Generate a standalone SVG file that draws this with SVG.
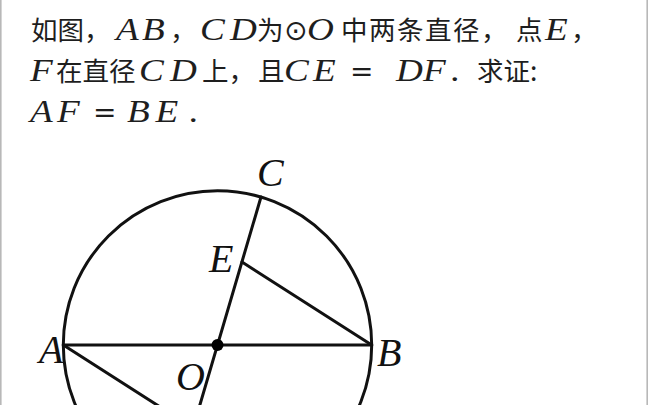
<svg xmlns="http://www.w3.org/2000/svg" width="648" height="405" viewBox="0 0 648 405">
  <style>
    .zh { font-family: "Noto Sans CJK SC", "Noto Sans", sans-serif; font-size: 26.5px; fill: #1e1e1e; }
    .m { font-family: "Liberation Serif", "Times New Roman", serif; font-style: italic; font-size: 31px; fill: #1e1e1e; }
    .sym { font-family: "DejaVu Sans", sans-serif; font-size: 28px; fill: #1e1e1e; }
    .lbl { font-family: "Liberation Serif", "Times New Roman", serif; font-style: italic; font-size: 40px; fill: #111; }
    .ln { stroke: #111; stroke-width: 3; fill: none; stroke-linecap: round; }
  </style>
  <rect x="0" y="0" width="648" height="405" fill="#ffffff"/>
  <line x1="0.8" y1="0" x2="0.8" y2="405" stroke="#b8b8b8" stroke-width="1.6"/>
  <line x1="647.2" y1="0" x2="647.2" y2="405" stroke="#b8b8b8" stroke-width="1.6"/>

  <g id="problem-text">
    <text class="zh" x="31" y="40">如图，</text>
    <text class="m" transform="scale(1.2,1)" x="96.7 118.3" y="40">AB</text>
    <text class="zh" x="170" y="40">，</text>
    <text class="m" transform="scale(1.2,1)" x="166.7 191.7" y="40">CD</text>
    <text class="zh" x="257" y="40">为</text>
    <text class="sym" x="284" y="40">⊙</text>
    <text class="m" transform="scale(1.2,1)" x="255.8" y="40">O</text>
    <text class="zh" x="341" y="40" letter-spacing="1.5">中两条直径，</text>
    <text class="zh" x="516" y="40">点</text>
    <text class="m" transform="scale(1.2,1)" x="454.2" y="40">E</text>
    <text class="zh" x="571" y="40">，</text>

    <text class="m" transform="scale(1.2,1)" x="25" y="81">F</text>
    <text class="zh" x="56" y="81">在直径</text>
    <text class="m" transform="scale(1.2,1)" x="115.8 141.7" y="81">CD</text>
    <text class="zh" x="202" y="81">上，</text>
    <text class="zh" x="258" y="81">且</text>
    <text class="m" transform="scale(1.2,1)" x="236.7 260.8" y="81">CE</text>
    <text class="sym" x="350" y="81">=</text>
    <text class="m" transform="scale(1.2,1)" x="330 352.5" y="81">DF</text>
    <text class="m" transform="scale(1.2,1)" x="375.8" y="81">.</text>
    <text class="zh" x="477" y="81">求证:</text>

    <text class="m" transform="scale(1.2,1)" x="25 47.5" y="122">AF</text>
    <text class="sym" x="93" y="122">=</text>
    <text class="m" transform="scale(1.2,1)" x="105.8 129.6" y="122">BE</text>
    <text class="m" transform="scale(1.2,1)" x="157.9" y="122">.</text>
  </g>

  <g id="circle-O">
    <circle cx="217.5" cy="345" r="154.2" class="ln"/>
  </g>

  <g id="connectors">
    <line class="ln" x1="63.3" y1="345" x2="371.7" y2="345"/>
    <line class="ln" x1="261" y1="197" x2="174" y2="493"/>
    <line class="ln" x1="242" y1="262" x2="371.7" y2="345"/>
    <line class="ln" x1="63.3" y1="345" x2="193" y2="428"/>
  </g>

  <g id="point-O">
    <circle cx="217.5" cy="345" r="6" fill="#000"/>
    <text class="lbl" x="176" y="390">O</text>
  </g>
  <g id="point-A"><text class="lbl" x="39" y="363">A</text></g>
  <g id="point-B"><text class="lbl" x="377" y="366">B</text></g>
  <g id="point-C"><text class="lbl" x="257" y="186">C</text></g>
  <g id="point-E"><text class="lbl" x="209" y="272">E</text></g>
</svg>
